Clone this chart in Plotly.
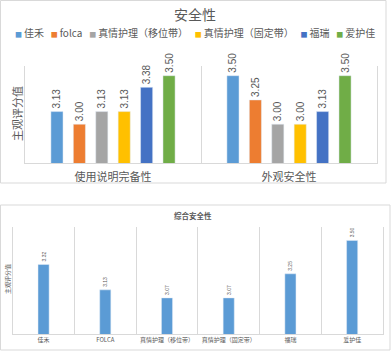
import plotly.graph_objects as go

# ---------------- data ----------------
top_title = "安全性"
top_categories = ["使用说明完备性", "外观安全性"]
series_names = ["佳禾", "folca", "真情护理（移位带）", "真情护理（固定带）", "福瑞", "爱护佳"]
series_colors = ["#5B9BD5", "#ED7D31", "#A5A5A5", "#FFC000", "#4472C4", "#70AD47"]
s_jiahe = [3.13, 3.50]
s_folca = [3.00, 3.25]
s_zq_move = [3.13, 3.00]
s_zq_fix = [3.13, 3.00]
s_furui = [3.38, 3.13]
s_aihujia = [3.50, 3.50]
series_values = [s_jiahe, s_folca, s_zq_move, s_zq_fix, s_furui, s_aihujia]

bottom_title = "综合安全性"
bottom_categories = ["佳禾", "FOLCA", "真情护理（移位带）", "真情护理（固定带）", "福瑞", "爱护佳"]
bottom_values = [3.32, 3.13, 3.07, 3.07, 3.25, 3.50]
y_title = "主观评分值"

# ---------------- layout helpers ----------------
W, H = 391, 353
def px(x):
    return x / W
def py(y):
    return 1 - y / H

TXT = "#595959"
GRID = "#D9D9D9"
CJK = "Noto Sans CJK SC"
NUM = "Liberation Sans"

fig = go.Figure()

for name, color, vals in zip(series_names, series_colors, series_values):
    fig.add_trace(go.Bar(
        x=top_categories, y=vals, name=name, marker_color=color,
        texttemplate="%{y:.2f}", textposition="outside", textangle=-90,
        textfont=dict(size=10, color=TXT, family=NUM),
        cliponaxis=False, constraintext="none",
        xaxis="x", yaxis="y", showlegend=False,
    ))

fig.add_trace(go.Bar(
    x=bottom_categories, y=bottom_values, name=bottom_title,
    marker_color="#5B9BD5", width=0.18,
    texttemplate="%{y:.2f}", textposition="outside", textangle=-90,
    textfont=dict(size=5, color=TXT, family=NUM),
    cliponaxis=False, constraintext="none",
    xaxis="x2", yaxis="y2", showlegend=False,
))

axis_common = dict(automargin=False, fixedrange=True)

fig.update_layout(
    width=W, height=H,
    margin=dict(l=0, r=0, t=0, b=0),
    paper_bgcolor="white", plot_bgcolor="white",
    font=dict(family=CJK, color=TXT),
    barmode="group", bargap=0.236, bargroupgap=0.46,
    showlegend=False,
    xaxis=dict(domain=[px(25), px(377)], anchor="y", type="category",
               tickson="boundaries", showgrid=True, gridcolor=GRID, gridwidth=1,
               showline=True, linecolor=GRID, linewidth=1, ticks="", tickangle=0,
               ticklabelstandoff=4,
               tickfont=dict(size=11, color=TXT, family=CJK), **axis_common),
    yaxis=dict(domain=[py(163), py(66)], anchor="x", range=[2.6, 3.6],
               showgrid=False, zeroline=False, showticklabels=False,
               showline=True, mirror=True, linecolor=GRID, linewidth=1, ticks="",
               **axis_common),
    xaxis2=dict(domain=[px(12.7), px(383)], anchor="y2", type="category",
                tickson="boundaries", showgrid=True, gridcolor=GRID, gridwidth=1,
                showline=True, linecolor=GRID, linewidth=1, ticks="", tickangle=0,
                tickfont=dict(size=6, color=TXT, family=CJK), **axis_common),
    yaxis2=dict(domain=[py(334), py(227)], anchor="x2", range=[2.8, 3.6],
                showgrid=False, zeroline=False, showticklabels=False,
                showline=True, mirror=True, linecolor=GRID, linewidth=1, ticks="",
                **axis_common),
)

annotations = [
    dict(text=top_title, x=px(195), y=py(14), xref="paper", yref="paper",
         xanchor="center", yanchor="middle",
         showarrow=False, font=dict(size=14, color=TXT, family=CJK)),
    dict(text=y_title, x=px(17), y=py(114), xref="paper", yref="paper",
         xanchor="center", yanchor="middle",
         showarrow=False, textangle=-90, font=dict(size=11, color=TXT, family=CJK)),
    dict(text="<b>" + bottom_title + "</b>", x=px(193), y=py(215), xref="paper", yref="paper",
         xanchor="center", yanchor="middle",
         showarrow=False, font=dict(size=7.5, color=TXT, family=CJK)),
    dict(text=y_title, x=px(7), y=py(279), xref="paper", yref="paper",
         xanchor="center", yanchor="middle",
         showarrow=False, textangle=-90, font=dict(size=6, color=TXT, family=CJK)),
]

gap = "\u00a0" * 3
legend_text = gap.join(
    f"<span style='color:{c};font-size:7px'>■</span>\u2009{n}"
    for n, c in zip(series_names, series_colors)
)
annotations.append(dict(
    text=legend_text, x=px(195), y=py(32), xref="paper", yref="paper",
    xanchor="center", yanchor="middle",
    showarrow=False, font=dict(size=10, color=TXT, family=CJK)))

fig.update_layout(annotations=annotations)

fig.update_layout(shapes=[
    dict(type="rect", xref="paper", yref="paper",
         x0=px(0.5), x1=px(386), y0=py(183), y1=py(0.5),
         line=dict(color=GRID, width=1)),
    dict(type="rect", xref="paper", yref="paper",
         x0=px(0.5), x1=px(390), y0=py(350), y1=py(205),
         line=dict(color=GRID, width=1)),
])

fig.write_html("out.html")
